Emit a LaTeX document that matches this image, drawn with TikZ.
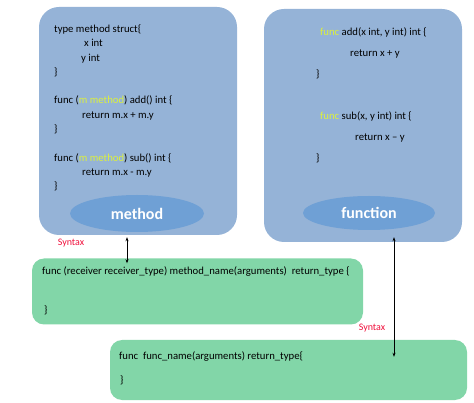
\documentclass[tikz,border=0pt]{standalone}
\usepackage{fontspec}
\setmainfont{Carlito}
\usepackage{xcolor}
\usetikzlibrary{arrows.meta,calc,positioning,shapes.geometric}
\definecolor{boxblue}{HTML}{95B3D7}
\definecolor{ellblue}{HTML}{6FA0D5}
\definecolor{boxgreen}{HTML}{82D6A8}
\definecolor{hlyellow}{HTML}{DDF03C}
\definecolor{syntaxred}{HTML}{F0103C}
\tikzset{
	code box/.style={fill=boxblue, rounded corners=20pt, minimum width=198pt, inner sep=0pt},
	syntax box/.style={fill=boxgreen, rounded corners=12pt, inner sep=0pt},
	kind/.style={ellipse, fill=ellblue, text=white, inner sep=0pt,
		font=\fontsize{16}{16}\selectfont\bfseries},
	code/.style={align=left, inner sep=0pt, anchor=north west},
	sig/.style={inner sep=0pt, anchor=west, font=\fontsize{10.7}{12}\selectfont},
	ar/.style={{Stealth[length=4pt,width=3pt]}-{Stealth[length=4pt,width=3pt]}, semithick},
	syn/.style={text=syntaxred, inner sep=0pt, font=\fontsize{10}{10}\selectfont}
}
\newcommand{\hl}[1]{\textcolor{hlyellow}{#1}}

\begin{document}
\begin{tikzpicture}[x=1pt,y=-1pt]
   \useasboundingbox (0,0) rectangle (474,403);
   % the two kinds
   \node[code box, minimum height=228pt] (M) at (138,121) {};
   \node[code box, minimum height=233pt] (F) at (363,125.5) {};
   \node[kind, minimum width=134pt, minimum height=37pt] (Me) at (137,213.5) {method};
   \node[kind, minimum width=132pt, minimum height=34pt] (Fe) at (369,213) {function};
   \node[code, font=\fontsize{10.7}{14.3}\selectfont] (Mc) at (54,24.5) {type method struct\{\\
      \hspace*{30pt}x int\\
      \hspace*{27pt}y int\\
      \}\\
      \mbox{}\\
      func (\hl{m method}) add() int \{\\
      \hspace*{28pt}return m.x + m.y\\
      \}\\
      \mbox{}\\
      func (\hl{m method}) sub() int \{\\
      \hspace*{28pt}return m.x - m.y\\
      \}};
   \node[code, font=\fontsize{10.7}{21}\selectfont] (Fc) at (316,27.5) {\hspace*{4pt}\hl{func}~add(x int, y int) int \{\\
      \hspace*{34pt}return x + y\\
      \}\\
      \mbox{}\\
      \hspace*{4pt}\hl{func}~sub(x, y int) int \{\\
      \hspace*{39pt}return x – y\\
      \}};
   % syntax boxes
   \node[syntax box, minimum width=331pt, minimum height=66pt] (SM) at (197.5,291.5) {};
   \node[syntax box, minimum width=357pt, minimum height=60pt] (SF) at (288.5,370) {};
   \node[sig] (SMa) at (42,272) {func (receiver receiver\_type) method\_name(arguments)~~return\_type \{};
   \node[sig] (SMb) at (44,310) {\}};
   \node[sig] (SFa) at (119,357) {func~~func\_name(arguments) return\_type\{};
   \node[sig] (SFb) at (120,380) {\}};
   \node[syn] (L1) at (71,243) {Syntax};
   \node[syn] (L2) at (372,328) {Syntax};
   \draw[ar] ($(M.south)+(-11,2)$) -- ($(M.south |- SM.north)+(-11,5)$);
   \draw[ar] ($(F.south)+(31,-5)$) -- ($(F.south |- SF.north)+(31,17)$);
\end{tikzpicture}
\end{document}
